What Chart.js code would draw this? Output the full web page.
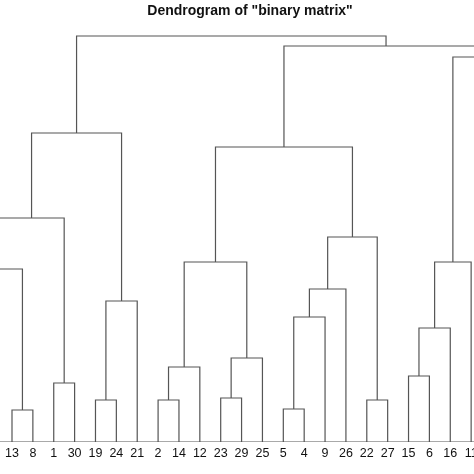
<!DOCTYPE html>
<html>
<head>
<meta charset="utf-8">
<script src="https://cdn.jsdelivr.net/npm/chart.js@4/dist/chart.umd.min.js"></script>
<style>
  html, body { margin: 0; padding: 0; background: #fff; }
  #wrap { width: 474px; height: 474px; }
</style>
</head>
<body>
<div id="wrap"><canvas id="c" width="474" height="474"></canvas></div>
<script>
// Leaf order along the bottom (observation labels)
const leafOrder = [3, 7, 10, 13, 8, 1, 30, 19, 24, 21, 2, 14, 12, 23, 29, 25, 5, 4, 9, 26, 22, 27, 15, 6, 16, 11, 17, 18, 20, 28];

// hclust-style merges: negative = observation, positive = earlier merge (1-based)
const mergeA = [-13, -5, -19, -2, -22, -23, -1, -15, 4, 6, 8, 2, 3, 12, -3, 15, 16, 9, 11, 14, 17, 18, 21, -17, -20, 24, 19, 22, 23];
const mergeB = [-8, -4, -24, -14, -27, -29, -30, -6, -12, -25, -16, -9, -21, -26, -7, -10, 1, 10, -11, 5, 7, 20, 13, -18, -28, 25, 26, 27, 28];
const mergeHeight = [0.32, 0.33, 0.42, 0.42, 0.42, 0.44, 0.59, 0.66, 0.75, 0.84, 1.14, 1.25, 1.41, 1.53, 0.55, 1.00, 1.73, 1.80, 1.80, 2.05, 2.24, 2.95, 3.09, 0.60, 0.90, 1.60, 3.85, 3.96, 4.06];

const titleText = 'Dendrogram of "binary matrix"';

// Compute node positions from the tree
const leafPos = {};
leafOrder.forEach((lab, i) => { leafPos[lab] = i + 1; });
const nodeX = [], nodeH = [];
function childX(ref) { return ref < 0 ? leafPos[-ref] : nodeX[ref - 1]; }
function childH(ref) { return ref < 0 ? 0 : nodeH[ref - 1]; }
const segs = [];
for (let i = 0; i < mergeA.length; i++) {
  const a = mergeA[i], b = mergeB[i], h = mergeHeight[i];
  const xa = childX(a), xb = childX(b);
  nodeX.push((xa + xb) / 2);
  nodeH.push(h);
  segs.push({x: xa, y: childH(a)}, {x: xa, y: h}, {x: xb, y: h}, {x: xb, y: childH(b)}, {x: xb, y: null});
}
const baseline = [{x: 1, y: 0}, {x: leafOrder.length, y: 0}];

const labelPlugin = {
  id: 'labels',
  afterDatasetsDraw(chart) {
    const ctx = chart.ctx, xs = chart.scales.x, area = chart.chartArea;
    ctx.save();
    ctx.fillStyle = '#111';
    ctx.font = '12.5px "Liberation Sans", Arial, sans-serif';
    ctx.textAlign = 'center';
    ctx.textBaseline = 'alphabetic';
    leafOrder.forEach((lab, i) => {
      ctx.fillText(String(lab), xs.getPixelForValue(i + 1), area.bottom + 15);
    });
    ctx.font = 'bold 14px "Liberation Sans", Arial, sans-serif';
    ctx.fillText(titleText, 250, 15);
    ctx.restore();
  }
};

new Chart(document.getElementById('c'), {
  type: 'line',
  data: {
    datasets: [
      { data: segs, borderColor: '#555', borderWidth: 1.2, pointRadius: 0, spanGaps: false, tension: 0 },
      { data: baseline, borderColor: '#555', borderWidth: 1.2, pointRadius: 0, tension: 0 }
    ]
  },
  options: {
    responsive: false,
    animation: false,
    events: [],
    layout: { padding: { top: 20, bottom: 32, left: 0, right: 0 } },
    scales: {
      x: { type: 'linear', min: 3.425, max: 26.137, display: false },
      y: { type: 'linear', min: 0, max: 4.22, display: false }
    },
    plugins: { legend: { display: false }, title: { display: false }, tooltip: { enabled: false } }
  },
  plugins: [labelPlugin]
});
</script>
</body>
</html>
